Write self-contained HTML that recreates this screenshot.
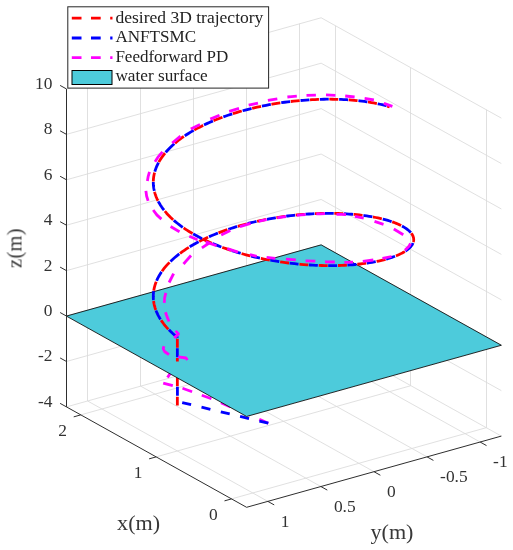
<!DOCTYPE html>
<html><head><meta charset="utf-8"><title>3D trajectory</title>
<style>
html,body{margin:0;padding:0;background:#fff;}
svg{display:block;}
.g{stroke:#dadada;stroke-width:0.85;fill:none;}
.ax{stroke:#2e2e2e;stroke-width:1;fill:none;}
.r,.b,.m,.ms{fill:none;stroke-width:2.8;stroke-linejoin:round;}
.ms{stroke:#ff00ff;}
.r{stroke:#ff0000;}
.b{stroke:#0000ff;}
.m{stroke:#ff00ff;}
.w{fill:#4dcbdb;stroke:#111;stroke-width:0.9;stroke-linejoin:miter;}
text{font-family:"Liberation Serif","DejaVu Serif",serif;fill:#262626;}
.t{font-size:17.4px;fill:#333;}
.al{font-size:20.5px;fill:#383838;}
.lt{font-size:16.6px;fill:#222;}
</style></head>
<body>
<svg width="513" height="550" viewBox="0 0 513 550">
<defs><filter id="soft" x="0" y="0" width="513" height="550" filterUnits="userSpaceOnUse"><feGaussianBlur stdDeviation="0.35"/></filter></defs>
<rect width="513" height="550" fill="#fff"/>
<g filter="url(#soft)">
<g class="grid"><line x1="87.50" y1="400.99" x2="87.50" y2="83.05" class="g"/><line x1="87.62" y1="400.99" x2="267.83" y2="501.37" class="g"/><line x1="140.50" y1="386.15" x2="140.50" y2="68.21" class="g"/><line x1="140.70" y1="386.15" x2="320.90" y2="486.53" class="g"/><line x1="193.50" y1="371.32" x2="193.50" y2="53.38" class="g"/><line x1="193.77" y1="371.32" x2="373.98" y2="471.70" class="g"/><line x1="246.50" y1="356.48" x2="246.50" y2="38.54" class="g"/><line x1="246.85" y1="356.48" x2="427.06" y2="456.86" class="g"/><line x1="299.50" y1="341.65" x2="299.50" y2="23.71" class="g"/><line x1="299.92" y1="341.65" x2="480.13" y2="442.03" class="g"/><line x1="335.50" y1="343.69" x2="335.50" y2="25.75" class="g"/><line x1="335.48" y1="343.69" x2="80.72" y2="414.90" class="g"/><line x1="410.50" y1="385.69" x2="410.50" y2="67.75" class="g"/><line x1="410.88" y1="385.69" x2="156.12" y2="456.90" class="g"/><line x1="486.50" y1="427.69" x2="486.50" y2="109.75" class="g"/><line x1="486.28" y1="427.69" x2="231.52" y2="498.90" class="g"/><line x1="66.39" y1="406.92" x2="321.15" y2="335.71" class="g"/><line x1="321.15" y1="335.71" x2="501.36" y2="436.09" class="g"/><line x1="66.39" y1="361.50" x2="321.15" y2="290.29" class="g"/><line x1="321.15" y1="290.29" x2="501.36" y2="390.67" class="g"/><line x1="66.39" y1="316.08" x2="321.15" y2="244.87" class="g"/><line x1="321.15" y1="244.87" x2="501.36" y2="345.25" class="g"/><line x1="66.39" y1="270.66" x2="321.15" y2="199.45" class="g"/><line x1="321.15" y1="199.45" x2="501.36" y2="299.83" class="g"/><line x1="66.39" y1="225.24" x2="321.15" y2="154.03" class="g"/><line x1="321.15" y1="154.03" x2="501.36" y2="254.41" class="g"/><line x1="66.39" y1="179.82" x2="321.15" y2="108.61" class="g"/><line x1="321.15" y1="108.61" x2="501.36" y2="208.99" class="g"/><line x1="66.39" y1="134.40" x2="321.15" y2="63.19" class="g"/><line x1="321.15" y1="63.19" x2="501.36" y2="163.57" class="g"/><line x1="66.39" y1="88.98" x2="321.15" y2="17.77" class="g"/><line x1="321.15" y1="17.77" x2="501.36" y2="118.15" class="g"/></g>
<g><path d="M177.35,405.55 L177.35,360.13" class="r" stroke-dasharray="8.90 10.40 8.90 10.40 56.82 50.00"/><path d="M268.3,423.2 L259.3,419.4" class="ms"/><path d="M250.0,415.3 L240.8,411.4" class="ms"/><path d="M230.5,406.9 L221.0,402.7" class="ms"/><path d="M211.4,398.7 L201.8,395.2" class="ms"/><path d="M192.1,391.7 L182.5,388.3" class="ms"/><path d="M172.8,385.7 L163.2,383.1" class="ms"/><path d="M167.5,377.5 L169.6,374.4 L172.0,371.0" class="ms"/><path d="M268.30,423.20 L177.45,401.40 L177.35,360.13" class="b" stroke-dasharray="9.15 10.70 9.15 10.70 9.15 10.70 9.15 10.70 9.15 10.53 8.90 10.40 8.90 57.42"/></g>
<polygon points="66.39,316.08 321.15,244.87 501.36,345.25 246.60,416.46" class="w"/>
<g><path d="M177.35,361.43 L177.35,337.42 L175.60,335.99 L173.91,334.54 L172.28,333.08 L170.71,331.60 L169.21,330.11 L167.76,328.61 L166.39,327.09 L165.08,325.57 L163.83,324.02 L162.65,322.47 L161.54,320.91 L160.50,319.34 L159.52,317.75 L158.62,316.16 L157.78,314.56 L157.02,312.96 L156.32,311.34 L155.70,309.73 L155.15,308.10 L154.67,306.47 L154.26,304.84 L153.92,303.20 L153.66,301.56 L153.46,299.92 L153.34,298.28 L153.30,296.63 L153.32,294.99 L153.42,293.35 L153.59,291.71 L153.84,290.07 L154.15,288.43 L154.54,286.79 L155.00,285.16 L155.53,283.54 L156.13,281.92 L156.81,280.31 L157.55,278.70 L158.37,277.10 L159.25,275.51 L160.21,273.93 L161.23,272.35 L162.32,270.79 L163.48,269.24 L164.70,267.69 L166.00,266.16 L167.35,264.65 L168.78,263.14 L170.26,261.65 L171.81,260.17 L173.42,258.71 L175.10,257.27 L176.83,255.83 L178.62,254.42 L180.47,253.02 L182.38,251.64 L184.35,250.28 L186.37,248.94 L188.44,247.62 L190.57,246.31 L192.75,245.03 L194.98,243.77 L197.26,242.52 L199.59,241.30 L201.97,240.10 L204.39,238.93 L206.85,237.78 L209.36,236.65 L211.91,235.54 L214.50,234.46 L217.12,233.40 L219.79,232.37 L222.49,231.36 L225.22,230.37 L227.99,229.42 L230.78,228.49 L233.61,227.58 L236.47,226.70 L239.35,225.85 L242.25,225.03 L245.18,224.23 L248.13,223.46 L251.10,222.72 L254.09,222.00 L257.09,221.32 L260.11,220.66 L263.14,220.03 L266.18,219.43 L269.24,218.85 L272.30,218.31 L275.36,217.79 L278.44,217.30 L281.51,216.85 L284.59,216.42 L287.66,216.01 L290.73,215.64 L293.80,215.30 L296.86,214.98 L299.92,214.69 L302.97,214.44 L306.00,214.21 L309.02,214.00 L312.03,213.83 L315.02,213.68 L318.00,213.57 L320.96,213.47 L323.89,213.41 L326.80,213.38 L329.69,213.37 L332.55,213.39 L335.39,213.43 L338.19,213.50 L340.97,213.60 L343.71,213.72 L346.42,213.87 L349.10,214.04 L351.74,214.24 L354.34,214.46 L356.90,214.71 L359.42,214.98 L361.89,215.27 L364.33,215.59 L366.72,215.93 L369.06,216.29 L371.35,216.67 L373.60,217.07 L375.79,217.50 L377.94,217.94 L380.03,218.40 L382.06,218.89 L384.04,219.39 L385.97,219.91 L387.84,220.44 L389.65,221.00 L391.40,221.57 L393.09,222.16 L394.72,222.76 L396.29,223.38 L397.79,224.01 L399.24,224.65 L400.61,225.31 L401.92,225.98 L403.17,226.67 L404.35,227.36 L405.46,228.07 L406.50,228.78 L407.48,229.50 L408.38,230.24 L409.22,230.98 L409.98,231.73 L410.68,232.48 L411.30,233.24 L411.85,234.01 L412.33,234.78 L412.74,235.55 L413.08,236.33 L413.34,237.11 L413.54,237.90 L413.66,238.68 L413.70,239.47 L413.68,240.25 L413.58,241.04 L413.41,241.82 L413.16,242.60 L412.85,243.38 L412.46,244.16 L412.00,244.93 L411.47,245.69 L410.87,246.45 L410.19,247.21 L409.45,247.96 L408.63,248.70 L407.75,249.43 L406.79,250.16 L405.77,250.87 L404.68,251.58 L403.52,252.27 L402.30,252.96 L401.00,253.63 L399.65,254.29 L398.22,254.93 L396.74,255.57 L395.19,256.19 L393.58,256.79 L391.90,257.38 L390.17,257.95 L388.38,258.51 L386.53,259.04 L384.62,259.57 L382.65,260.07 L380.63,260.55 L378.56,261.02 L376.43,261.46 L374.25,261.89 L372.02,262.29 L369.74,262.68 L367.41,263.04 L365.03,263.38 L362.61,263.70 L360.15,263.99 L357.64,264.26 L355.09,264.51 L352.50,264.74 L349.88,264.94 L347.21,265.11 L344.51,265.26 L341.78,265.39 L339.01,265.48 L336.22,265.56 L333.39,265.60 L330.53,265.62 L327.65,265.62 L324.75,265.58 L321.82,265.52 L318.87,265.43 L315.90,265.32 L312.91,265.17 L309.91,265.00 L306.89,264.80 L303.86,264.57 L300.82,264.32 L297.76,264.03 L294.70,263.72 L291.64,263.38 L288.56,263.01 L285.49,262.61 L282.41,262.18 L279.34,261.72 L276.27,261.24 L273.20,260.72 L270.14,260.18 L267.08,259.61 L264.03,259.01 L261.00,258.38 L257.98,257.72 L254.97,257.04 L251.98,256.33 L249.00,255.59 L246.04,254.82 L243.11,254.02 L240.20,253.20 L237.31,252.35 L234.45,251.48 L231.61,250.57 L228.81,249.64 L226.03,248.69 L223.29,247.71 L220.58,246.70 L217.90,245.67 L215.26,244.61 L212.66,243.53 L210.10,242.43 L207.58,241.30 L205.11,240.15 L202.67,238.98 L200.28,237.78 L197.94,236.56 L195.65,235.32 L193.40,234.06 L191.21,232.78 L189.06,231.47 L186.97,230.15 L184.94,228.81 L182.96,227.45 L181.03,226.07 L179.16,224.68 L177.35,223.26 L175.60,221.83 L173.91,220.39 L172.28,218.93 L170.71,217.45 L169.21,215.96 L167.76,214.46 L166.39,212.94 L165.08,211.41 L163.83,209.87 L162.65,208.32 L161.54,206.76 L160.50,205.18 L159.52,203.60 L158.62,202.01 L157.78,200.41 L157.02,198.80 L156.32,197.19 L155.70,195.57 L155.15,193.95 L154.67,192.32 L154.26,190.69 L153.92,189.05 L153.66,187.41 L153.46,185.77 L153.34,184.12 L153.30,182.48 L153.32,180.84 L153.42,179.19 L153.59,177.55 L153.84,175.91 L154.15,174.28 L154.54,172.64 L155.00,171.01 L155.53,169.39 L156.13,167.77 L156.81,166.15 L157.55,164.55 L158.37,162.95 L159.25,161.36 L160.21,159.77 L161.23,158.20 L162.32,156.64 L163.48,155.08 L164.70,153.54 L166.00,152.01 L167.35,150.49 L168.78,148.99 L170.26,147.50 L171.81,146.02 L173.42,144.56 L175.10,143.11 L176.83,141.68 L178.62,140.27 L180.47,138.87 L182.38,137.49 L184.35,136.13 L186.37,134.79 L188.44,133.46 L190.57,132.16 L192.75,130.88 L194.98,129.61 L197.26,128.37 L199.59,127.15 L201.97,125.95 L204.39,124.78 L206.85,123.62 L209.36,122.49 L211.91,121.39 L214.50,120.30 L217.12,119.25 L219.79,118.21 L222.49,117.20 L225.22,116.22 L227.99,115.26 L230.78,114.33 L233.61,113.43 L236.47,112.55 L239.35,111.70 L242.25,110.87 L245.18,110.08 L248.13,109.31 L251.10,108.56 L254.09,107.85 L257.09,107.16 L260.11,106.51 L263.14,105.88 L266.18,105.27 L269.24,104.70 L272.30,104.16 L275.36,103.64 L278.44,103.15 L281.51,102.69 L284.59,102.26 L287.66,101.86 L290.73,101.49 L293.80,101.14 L296.86,100.83 L299.92,100.54 L302.97,100.28 L306.00,100.05 L309.02,99.85 L312.03,99.68 L315.02,99.53 L318.00,99.41 L320.96,99.32 L323.89,99.26 L326.80,99.22 L329.69,99.21 L332.55,99.23 L335.39,99.28 L338.19,99.35 L340.97,99.44 L343.71,99.57 L346.42,99.72 L349.10,99.89 L351.74,100.09 L354.34,100.31 L356.90,100.55 L359.42,100.82 L361.89,101.12 L364.33,101.43 L366.72,101.77 L369.06,102.13 L371.35,102.52 L373.60,102.92 L375.79,103.34 L377.94,103.79 L380.03,104.25 L382.06,104.73 L384.04,105.23 L385.97,105.75 L387.84,106.29 L389.65,106.85" class="r" stroke-dasharray="3.38 10.40 8.90 13.56 11.45 11.73 9.18 10.44 9.26 11.91 11.69 13.73 10.77 11.95 9.88 11.27 9.47 10.92 9.24 10.70 9.09 10.56 9.00 10.47 8.94 10.42 8.90 10.40 8.90 10.42 8.95 10.52 9.10 10.84 9.65 12.87 9.50 12.84 9.95 10.96 9.15 10.55 8.97 10.43 8.91 10.40 8.90 10.41 8.93 10.46 8.98 10.54 9.07 10.67 9.21 10.87 9.42 11.20 9.79 11.79 10.54 13.21 12.11 12.50 9.55 10.51 9.01 11.27 10.84 14.12 11.18 12.24 10.04 11.40 9.56 10.99 9.29 10.75 9.12 10.59 9.02 10.49 8.95 10.43 8.91 10.40 8.90 10.41 8.93 10.49 9.04 10.71 52.50 50.00"/><path d="M177.35,361.43 L177.35,337.42 L175.60,335.99 L173.91,334.54 L172.28,333.08 L170.71,331.60 L169.21,330.11 L167.76,328.61 L166.39,327.09 L165.08,325.57 L163.83,324.02 L162.65,322.47 L161.54,320.91 L160.50,319.34 L159.52,317.75 L158.62,316.16 L157.78,314.56 L157.02,312.96 L156.32,311.34 L155.70,309.73 L155.15,308.10 L154.67,306.47 L154.26,304.84 L153.92,303.20 L153.66,301.56 L153.46,299.92 L153.34,298.28 L153.30,296.63 L153.32,294.99 L153.42,293.35 L153.59,291.71 L153.84,290.07 L154.15,288.43 L154.54,286.79 L155.00,285.16 L155.53,283.54 L156.13,281.92 L156.81,280.31 L157.55,278.70 L158.37,277.10 L159.25,275.51 L160.21,273.93 L161.23,272.35 L162.32,270.79 L163.48,269.24 L164.70,267.69 L166.00,266.16 L167.35,264.65 L168.78,263.14 L170.26,261.65 L171.81,260.17 L173.42,258.71 L175.10,257.27 L176.83,255.83 L178.62,254.42 L180.47,253.02 L182.38,251.64 L184.35,250.28 L186.37,248.94 L188.44,247.62 L190.57,246.31 L192.75,245.03 L194.98,243.77 L197.26,242.52 L199.59,241.30 L201.97,240.10 L204.39,238.93 L206.85,237.78 L209.36,236.65 L211.91,235.54 L214.50,234.46 L217.12,233.40 L219.79,232.37 L222.49,231.36 L225.22,230.37 L227.99,229.42 L230.78,228.49 L233.61,227.58 L236.47,226.70 L239.35,225.85 L242.25,225.03 L245.18,224.23 L248.13,223.46 L251.10,222.72 L254.09,222.00 L257.09,221.32 L260.11,220.66 L263.14,220.03 L266.18,219.43 L269.24,218.85 L272.30,218.31 L275.36,217.79 L278.44,217.30 L281.51,216.85 L284.59,216.42 L287.66,216.01 L290.73,215.64 L293.80,215.30 L296.86,214.98 L299.92,214.69 L302.97,214.44 L306.00,214.21 L309.02,214.00 L312.03,213.83 L315.02,213.68 L318.00,213.57 L320.96,213.47 L323.89,213.41 L326.80,213.38 L329.69,213.37 L332.55,213.39 L335.39,213.43 L338.19,213.50 L340.97,213.60 L343.71,213.72 L346.42,213.87 L349.10,214.04 L351.74,214.24 L354.34,214.46 L356.90,214.71 L359.42,214.98 L361.89,215.27 L364.33,215.59 L366.72,215.93 L369.06,216.29 L371.35,216.67 L373.60,217.07 L375.79,217.50 L377.94,217.94 L380.03,218.40 L382.06,218.89 L384.04,219.39 L385.97,219.91 L387.84,220.44 L389.65,221.00 L391.40,221.57 L393.09,222.16 L394.72,222.76 L396.29,223.38 L397.79,224.01 L399.24,224.65 L400.61,225.31 L401.92,225.98 L403.17,226.67 L404.35,227.36 L405.46,228.07 L406.50,228.78 L407.48,229.50 L408.38,230.24 L409.22,230.98 L409.98,231.73 L410.68,232.48 L411.30,233.24 L411.85,234.01 L412.33,234.78 L412.74,235.55 L413.08,236.33 L413.34,237.11 L413.54,237.90 L413.66,238.68 L413.70,239.47 L413.68,240.25 L413.58,241.04 L413.41,241.82 L413.16,242.60 L412.85,243.38 L412.46,244.16 L412.00,244.93 L411.47,245.69 L410.87,246.45 L410.19,247.21 L409.45,247.96 L408.63,248.70 L407.75,249.43 L406.79,250.16 L405.77,250.87 L404.68,251.58 L403.52,252.27 L402.30,252.96 L401.00,253.63 L399.65,254.29 L398.22,254.93 L396.74,255.57 L395.19,256.19 L393.58,256.79 L391.90,257.38 L390.17,257.95 L388.38,258.51 L386.53,259.04 L384.62,259.57 L382.65,260.07 L380.63,260.55 L378.56,261.02 L376.43,261.46 L374.25,261.89 L372.02,262.29 L369.74,262.68 L367.41,263.04 L365.03,263.38 L362.61,263.70 L360.15,263.99 L357.64,264.26 L355.09,264.51 L352.50,264.74 L349.88,264.94 L347.21,265.11 L344.51,265.26 L341.78,265.39 L339.01,265.48 L336.22,265.56 L333.39,265.60 L330.53,265.62 L327.65,265.62 L324.75,265.58 L321.82,265.52 L318.87,265.43 L315.90,265.32 L312.91,265.17 L309.91,265.00 L306.89,264.80 L303.86,264.57 L300.82,264.32 L297.76,264.03 L294.70,263.72 L291.64,263.38 L288.56,263.01 L285.49,262.61 L282.41,262.18 L279.34,261.72 L276.27,261.24 L273.20,260.72 L270.14,260.18 L267.08,259.61 L264.03,259.01 L261.00,258.38 L257.98,257.72 L254.97,257.04 L251.98,256.33 L249.00,255.59 L246.04,254.82 L243.11,254.02 L240.20,253.20 L237.31,252.35 L234.45,251.48 L231.61,250.57 L228.81,249.64 L226.03,248.69 L223.29,247.71 L220.58,246.70 L217.90,245.67 L215.26,244.61 L212.66,243.53 L210.10,242.43 L207.58,241.30 L205.11,240.15 L202.67,238.98 L200.28,237.78 L197.94,236.56 L195.65,235.32 L193.40,234.06 L191.21,232.78 L189.06,231.47 L186.97,230.15 L184.94,228.81 L182.96,227.45 L181.03,226.07 L179.16,224.68 L177.35,223.26 L175.60,221.83 L173.91,220.39 L172.28,218.93 L170.71,217.45 L169.21,215.96 L167.76,214.46 L166.39,212.94 L165.08,211.41 L163.83,209.87 L162.65,208.32 L161.54,206.76 L160.50,205.18 L159.52,203.60 L158.62,202.01 L157.78,200.41 L157.02,198.80 L156.32,197.19 L155.70,195.57 L155.15,193.95 L154.67,192.32 L154.26,190.69 L153.92,189.05 L153.66,187.41 L153.46,185.77 L153.34,184.12 L153.30,182.48 L153.32,180.84 L153.42,179.19 L153.59,177.55 L153.84,175.91 L154.15,174.28 L154.54,172.64 L155.00,171.01 L155.53,169.39 L156.13,167.77 L156.81,166.15 L157.55,164.55 L158.37,162.95 L159.25,161.36 L160.21,159.77 L161.23,158.20 L162.32,156.64 L163.48,155.08 L164.70,153.54 L166.00,152.01 L167.35,150.49 L168.78,148.99 L170.26,147.50 L171.81,146.02 L173.42,144.56 L175.10,143.11 L176.83,141.68 L178.62,140.27 L180.47,138.87 L182.38,137.49 L184.35,136.13 L186.37,134.79 L188.44,133.46 L190.57,132.16 L192.75,130.88 L194.98,129.61 L197.26,128.37 L199.59,127.15 L201.97,125.95 L204.39,124.78 L206.85,123.62 L209.36,122.49 L211.91,121.39 L214.50,120.30 L217.12,119.25 L219.79,118.21 L222.49,117.20 L225.22,116.22 L227.99,115.26 L230.78,114.33 L233.61,113.43 L236.47,112.55 L239.35,111.70 L242.25,110.87 L245.18,110.08 L248.13,109.31 L251.10,108.56 L254.09,107.85 L257.09,107.16 L260.11,106.51 L263.14,105.88 L266.18,105.27 L269.24,104.70 L272.30,104.16 L275.36,103.64 L278.44,103.15 L281.51,102.69 L284.59,102.26 L287.66,101.86 L290.73,101.49 L293.80,101.14 L296.86,100.83 L299.92,100.54 L302.97,100.28 L306.00,100.05 L309.02,99.85 L312.03,99.68 L315.02,99.53 L318.00,99.41 L320.96,99.32 L323.89,99.26 L326.80,99.22 L329.69,99.21 L332.55,99.23 L335.39,99.28 L338.19,99.35 L340.97,99.44 L343.71,99.57 L346.42,99.72 L349.10,99.89 L351.74,100.09 L354.34,100.31 L356.90,100.55 L359.42,100.82 L361.89,101.12 L364.33,101.43 L366.72,101.77 L369.06,102.13 L371.35,102.52 L373.60,102.92 L375.79,103.34 L377.94,103.79 L380.03,104.25 L382.06,104.73 L384.04,105.23 L385.97,105.75 L387.84,106.29 L389.65,106.85" class="b" stroke-dasharray="0.00 4.28 8.90 10.40 11.82 13.37 10.01 10.73 8.92 10.84 10.20 13.69 11.71 12.58 10.22 11.55 9.64 11.07 9.34 10.79 9.16 10.62 9.04 10.51 8.96 10.44 8.92 10.41 8.90 10.41 8.92 10.46 9.01 10.63 9.27 11.30 11.09 11.23 11.17 11.63 9.37 10.69 9.03 10.48 8.93 10.41 8.90 10.40 8.91 10.43 8.95 10.50 9.02 10.60 9.13 10.76 9.30 11.02 9.58 11.45 10.09 12.33 11.31 14.08 10.67 11.15 8.98 10.55 9.65 12.70 12.14 13.06 10.46 11.73 9.75 11.16 9.40 10.85 9.19 10.66 9.06 10.54 8.98 10.46 8.92 10.41 8.90 10.40 8.91 10.44 8.97 10.57 9.17 53.12"/><path d="M187.5,360.0 L186.0,358.0 L178.3,356.8" class="ms"/><path d="M169.0,354.6 L164.5,351.5 L163.2,348.5 L164.0,346.3" class="ms"/><path d="M174.2,337.9 L178.5,334.0 L175.6,330.9" class="ms"/><path d="M169.0,321.5 L167.0,316.6 L165.5,312.2" class="ms"/><path d="M164.3,302.8 L164.6,297.8 L165.8,292.9" class="ms"/><path d="M169.1,282.5 L173.6,273.6" class="ms"/><path d="M183.5,264.0 L191.0,255.5" class="ms"/><path d="M201.9,247.9 L209.2,243.0" class="ms"/><path d="M221.2,235.0 L230.3,230.6" class="ms"/><path d="M239.9,226.6 L250.6,223.4" class="ms"/><path d="M258.8,221.3 L262.7,220.4 L266.6,219.6" class="ms"/><path d="M277.3,217.8 L281.6,217.1 L286.0,216.5" class="ms"/><path d="M296.8,215.3 L301.2,214.9 L305.6,214.5" class="ms"/><path d="M316.3,213.9 L320.6,213.8 L325.0,213.7" class="ms"/><path d="M336.5,214.3 L341.2,214.4 L346.0,214.6" class="ms"/><path d="M354.9,216.3 L363.7,218.1" class="ms"/><path d="M374.5,221.4 L383.5,224.4" class="ms"/><path d="M393.8,229.0 L403.3,234.8" class="ms"/><path d="M410.5,243.5 L409.2,246.0 L405.0,250.3" class="ms"/><path d="M391.6,256.5 L382.5,258.4" class="ms"/><path d="M373.3,260.0 L362.8,261.4" class="ms"/><path d="M353.0,262.2 L344.4,262.4" class="ms"/><path d="M334.8,262.0 L325.0,261.8" class="ms"/><path d="M315.3,261.2 L305.6,260.8" class="ms"/><path d="M295.8,259.8 L286.0,259.2" class="ms"/><path d="M275.3,258.4 L266.6,257.4" class="ms"/><path d="M256.8,256.3 L250.0,254.6" class="ms"/><path d="M238.0,252.2 L227.3,248.7" class="ms"/><path d="M216.5,245.8 L205.8,241.9" class="ms"/><path d="M197.5,239.8 L189.3,236.2" class="ms"/><path d="M179.5,231.7 L170.6,226.5" class="ms"/><path d="M161.4,219.1 L156.8,214.9 L153.2,210.0" class="ms"/><path d="M148.1,200.9 L146.6,196.0 L145.9,190.9" class="ms"/><path d="M147.4,180.9 L148.2,176.3 L149.5,171.8" class="ms"/><path d="M155.0,161.8 L158.4,156.6 L162.5,151.8" class="ms"/><path d="M172.2,143.0 L180.5,136.1" class="ms"/><path d="M190.8,128.9 L200.0,124.6" class="ms"/><path d="M210.3,119.1 L219.5,115.2" class="ms"/><path d="M229.2,111.3 L239.0,108.4" class="ms"/><path d="M248.7,105.2 L258.0,103.2" class="ms"/><path d="M267.9,100.3 L277.3,98.8" class="ms"/><path d="M287.4,97.0 L296.8,96.1" class="ms"/><path d="M306.5,95.3 L315.9,95.1" class="ms"/><path d="M326.0,94.9 L335.4,95.3" class="ms"/><path d="M345.2,96.0 L354.6,97.0" class="ms"/><path d="M364.6,98.4 L373.9,100.0" class="ms"/><path d="M383.9,103.4 L392.4,106.3" class="ms"/></g>
<g><polyline points="66.50,88.98 66.50,406.92 246.60,507.30 501.36,436.09" class="ax"/><line x1="66.50" y1="406.92" x2="60.12" y2="403.37" class="ax"/><line x1="66.50" y1="361.50" x2="60.12" y2="357.95" class="ax"/><line x1="66.50" y1="316.08" x2="60.12" y2="312.53" class="ax"/><line x1="66.50" y1="270.66" x2="60.12" y2="267.11" class="ax"/><line x1="66.50" y1="225.24" x2="60.12" y2="221.69" class="ax"/><line x1="66.50" y1="179.82" x2="60.12" y2="176.27" class="ax"/><line x1="66.50" y1="134.40" x2="60.12" y2="130.85" class="ax"/><line x1="66.50" y1="88.98" x2="60.12" y2="85.43" class="ax"/><line x1="80.72" y1="414.90" x2="73.69" y2="416.87" class="ax"/><line x1="156.12" y1="456.90" x2="149.09" y2="458.87" class="ax"/><line x1="231.52" y1="498.90" x2="224.49" y2="500.87" class="ax"/><line x1="267.83" y1="501.37" x2="274.21" y2="504.92" class="ax"/><line x1="320.90" y1="486.53" x2="327.28" y2="490.08" class="ax"/><line x1="373.98" y1="471.70" x2="380.36" y2="475.25" class="ax"/><line x1="427.06" y1="456.86" x2="433.43" y2="460.41" class="ax"/><line x1="480.13" y1="442.03" x2="486.51" y2="445.58" class="ax"/></g>
<g><text x="52.4" y="406.7" class="t" text-anchor="end">-4</text><text x="52.4" y="361.3" class="t" text-anchor="end">-2</text><text x="52.4" y="315.9" class="t" text-anchor="end">0</text><text x="52.4" y="270.5" class="t" text-anchor="end">2</text><text x="52.4" y="225.0" class="t" text-anchor="end">4</text><text x="52.4" y="179.6" class="t" text-anchor="end">6</text><text x="52.4" y="134.2" class="t" text-anchor="end">8</text><text x="52.4" y="88.8" class="t" text-anchor="end">10</text><text x="67.0" y="436.4" class="t" text-anchor="end">2</text><text x="142.4" y="478.4" class="t" text-anchor="end">1</text><text x="217.8" y="520.4" class="t" text-anchor="end">0</text><text x="280.8" y="526.5" class="t" text-anchor="start">1</text><text x="333.9" y="511.6" class="t" text-anchor="start">0.5</text><text x="387.0" y="496.8" class="t" text-anchor="start">0</text><text x="440.1" y="482.0" class="t" text-anchor="start">-0.5</text><text x="493.1" y="467.1" class="t" text-anchor="start">-1</text><text x="138.6" y="530.0" class="al" text-anchor="middle" textLength="43.0" lengthAdjust="spacingAndGlyphs">x(m)</text><text x="392.0" y="539.0" class="al" text-anchor="middle" textLength="43.0" lengthAdjust="spacingAndGlyphs">y(m)</text><text transform="translate(21.5,248.3) rotate(-90)" class="al" text-anchor="middle" textLength="39.5" lengthAdjust="spacing">z(m)</text></g>
<g><rect x="67.8" y="6.8" width="200.8" height="81.3" fill="#fff" stroke="#262626" stroke-width="1"/><path d="M71.8,18.2 L112.5,18.2" class="r" stroke-dasharray="9.7 9.5"/><path d="M71.8,38.0 L112.5,38.0" class="b" stroke-dasharray="9.7 9.5"/><path d="M71.8,57.7 L112.5,57.7" class="m" stroke-dasharray="9.7 9.5"/><rect x="72" y="70.5" width="40" height="14" fill="#4dcbdb" stroke="#000" stroke-width="1"/><text x="115.4" y="22.5" class="lt" text-anchor="start" textLength="148.0" lengthAdjust="spacingAndGlyphs">desired 3D trajectory</text><text x="115.4" y="42.1" class="lt" text-anchor="start" textLength="80.7" lengthAdjust="spacingAndGlyphs">ANFTSMC</text><text x="115.4" y="61.8" class="lt" text-anchor="start" textLength="112.9" lengthAdjust="spacingAndGlyphs">Feedforward PD</text><text x="115.4" y="81.3" class="lt" text-anchor="start" textLength="92.3" lengthAdjust="spacingAndGlyphs">water surface</text></g>
</g>
</svg>
</body></html>
